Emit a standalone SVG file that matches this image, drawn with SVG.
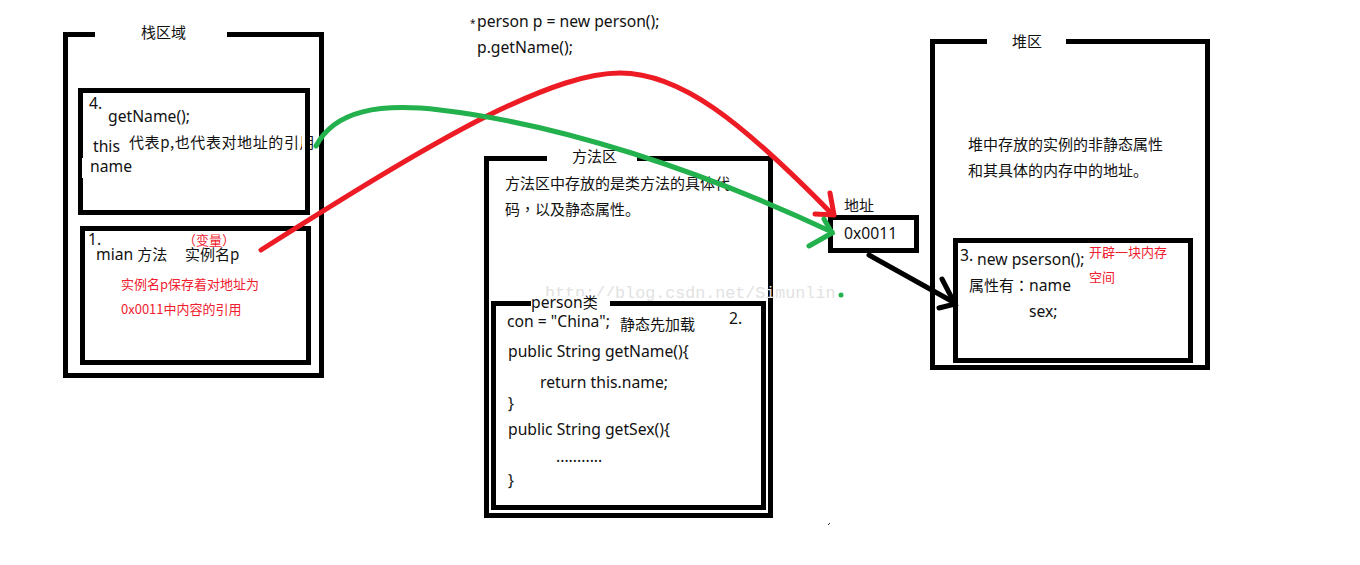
<svg xmlns="http://www.w3.org/2000/svg" width="1360" height="565" viewBox="0 0 1360 565">
<style>
.b{fill:none;stroke:#000;stroke-width:5}
.gap{fill:#fff;stroke:none}
text{font-family:"Noto Sans","Noto Sans CJK SC",sans-serif;font-size:15.700px;fill:#111}
.c{font-family:"Noto Sans CJK SC","Noto Sans",sans-serif;font-size:15px}
.tc{font-family:"Noto Sans CJK TC",sans-serif}
.r{fill:#f01c30;font-family:"Noto Sans CJK SC","Noto Sans",sans-serif;font-size:13px}
.wm{font-family:"Liberation Mono",monospace;font-size:16.7px;fill:#e2e2e2}
.red{fill:none;stroke:#ed1c24;stroke-width:5;stroke-linecap:round}
.green{fill:none;stroke:#22b14c;stroke-width:5;stroke-linecap:round}
.black{fill:none;stroke:#000;stroke-width:5;stroke-linecap:round}
</style>
<rect width="1360" height="565" fill="#fff"/>
<g id="header">
<text x="470" y="27"><tspan font-size="10">*</tspan><tspan x="477">person p = new person();</tspan></text>
<text x="477" y="53">p.getName();</text>
</g>
<g id="stack">
<rect class="b" x="65.500" y="34.500" width="256" height="341"/>
<rect class="gap" x="95" y="28" width="132" height="12"/>
<text class="c" x="141" y="38">栈区域</text>
</g>
<g id="frame-getname">
<text class="c" x="129" y="148" letter-spacing=".6">代表p,也代表对地址的引用</text>
<rect class="gap" x="302" y="134" width="3" height="18"/>
<rect class="b" x="80.500" y="90.500" width="227" height="122"/>
<rect class="gap" x="82" y="158" width="3" height="20"/>
<text x="89" y="109">4.</text>
<text x="108" y="122">getName();</text>
<text x="93" y="152" font-size="16.500">this</text>
<text x="90" y="172">name</text>
</g>
<g id="frame-main">
<rect class="b" x="82.500" y="228.500" width="226" height="134"/>
<text x="88" y="245">1.</text>
<text x="96" y="260">mian <tspan class="c">方法</tspan></text>
<text class="c" x="185" y="260" font-size="15">实例名p</text>
<text class="r" x="183" y="245">（变量）</text>
<text class="r" x="121" y="289">实例名p保存着对地址为</text>
<text class="r" x="121" y="314">0x0011中内容的引用</text>
</g>
<g id="method-area">
<rect class="b" x="486.500" y="158.500" width="284" height="357"/>
<rect class="gap" x="547" y="150" width="90" height="12"/>
<text class="c" x="572" y="162">方法区</text>
<text class="c" x="505" y="189">方法区中存放的是类方法的具体代</text>
<text class="c" x="505" y="215">码<tspan class="tc">，</tspan>以及静态属性。</text>
</g>
<text class="wm" x="545" y="298">http://blog.csdn.net/Simunlin</text>
<g id="person-class">
<rect class="b" x="493.500" y="303.500" width="270" height="204"/>
<rect class="gap" x="531" y="296" width="79" height="11"/>
<text x="531" y="308">person<tspan class="c">类</tspan></text>
<text x="507" y="327">con = "China";</text>
<text class="c" x="620" y="330">静态先加载</text>
<text x="729" y="324">2.</text>
<text x="508" y="357">public String getName(){</text>
<text x="540" y="388">return this.name;</text>
<text x="508" y="409">}</text>
<text x="508" y="435">public String getSex(){</text>
<text x="556" y="462">...........</text>
<text x="508" y="486">}</text>
</g>
<g id="heap">
<rect class="b" x="932.500" y="41.500" width="275" height="326"/>
<rect class="gap" x="987" y="34" width="79" height="12"/>
<text class="c" x="1012" y="47">堆区</text>
<text class="c" x="968" y="150">堆中存放的实例的非静态属性</text>
<text class="c" x="968" y="176">和其具体的内存中的地址。</text>
</g>
<g id="object">
<rect class="b" x="955.500" y="240.500" width="235" height="120"/>
<text x="960" y="261">3.</text>
<text x="977" y="265">new pserson();</text>
<text x="969" y="291"><tspan class="c">属性有<tspan class="tc">：</tspan></tspan><tspan x="1029">name</tspan></text>
<text x="1029" y="317">sex;</text>
<text class="r" x="1089" y="257">开辟一块内存</text>
<text class="r" x="1089" y="282">空间</text>
</g>
<g id="address">
<rect class="b" x="830.500" y="217.500" width="86" height="33"/>
<text class="c" x="844" y="211">地址</text>
<text x="844" y="239" font-size="16.500">0x0011</text>
</g>
<g id="connectors">
<path class="red" d="M261 250C340 200 420 150 485 117C550 85 590 73 620 73C680 73 740 120 832 214"/>
<path class="red" d="M830 193L834 215M815 214L834 215"/>
<path class="green" d="M316 146C335 110 380 103 440 110C560 124 700 170 832 232"/>
<path class="green" d="M824 219L832 233L809 246"/>
<path class="black" d="M869 255L955 303"/>
<path class="black" d="M942 279L955 304L939 308"/>
</g>
<circle cx="841" cy="295" r="2.500" fill="#22b14c"/>
<path d="M828 525l2-2" stroke="#333" fill="none"/>
</svg>
